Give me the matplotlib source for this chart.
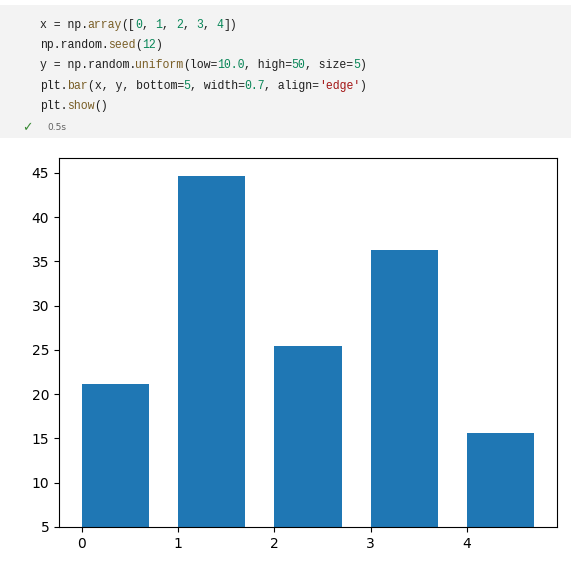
import numpy as np
import matplotlib.pyplot as plt
from matplotlib.patches import Rectangle

# bar data
x = np.array([0, 1, 2, 3, 4])
tops = [21.1, 44.7, 25.5, 36.3, 15.6]
base = 5
heights = [t - base for t in tops]

# code cell text as (token, colour) pieces
dark = '#1f1f1f'
num = '#098658'
strc = '#a31515'
fn = '#795e26'
code_lines = [
    [('x = np.', dark), ('array', fn), ('([', dark), ('0', num), (', ', dark), ('1', num), (', ', dark),
     ('2', num), (', ', dark), ('3', num), (', ', dark), ('4', num), ('])', dark)],
    [('np.random.', dark), ('seed', fn), ('(', dark), ('12', num), (')', dark)],
    [('y = np.random.', dark), ('uniform', fn), ('(low=', dark), ('10.0', num), (', high=', dark),
     ('50', num), (', size=', dark), ('5', num), (')', dark)],
    [('plt.', dark), ('bar', fn), ('(x, y, bottom=', dark), ('5', num), (', width=', dark),
     ('0.7', num), (', align=', dark), ("'edge'", strc), (')', dark)],
    [('plt.', dark), ('show', fn), ('()', dark)],
]

W, H = 571, 562
fig = plt.figure(figsize=(W / 100, H / 100), dpi=100)
fig.patches.append(Rectangle((0, 1 - 138 / H), 1, 133 / H, transform=fig.transFigure,
                             facecolor='#f3f3f3', edgecolor='none', zorder=0))

char_w = 6.8
for i, line in enumerate(code_lines):
    ypix = 25 + i * 20.2
    col = 0
    for tok, c in line:
        fig.text((40 + col * char_w) / W, 1 - ypix / H, tok, color=c,
                 family='Liberation Mono', fontsize=8.3, va='center', ha='left')
        col += len(tok)

fig.text(22 / W, 1 - 128 / H, '✓', color='#388a34', fontsize=9, va='center', family='DejaVu Sans')
fig.text(47 / W, 1 - 128 / H, '0.5s', color='#616161', fontsize=6.5, va='center')

ax = fig.add_axes([59 / W, 35 / H, (557 - 59) / W, (527 - 158) / H])
ax.bar(x, heights, bottom=base, width=0.7, align='edge')
ax.tick_params(labelsize=10)

plt.savefig('out.png', dpi=100)
